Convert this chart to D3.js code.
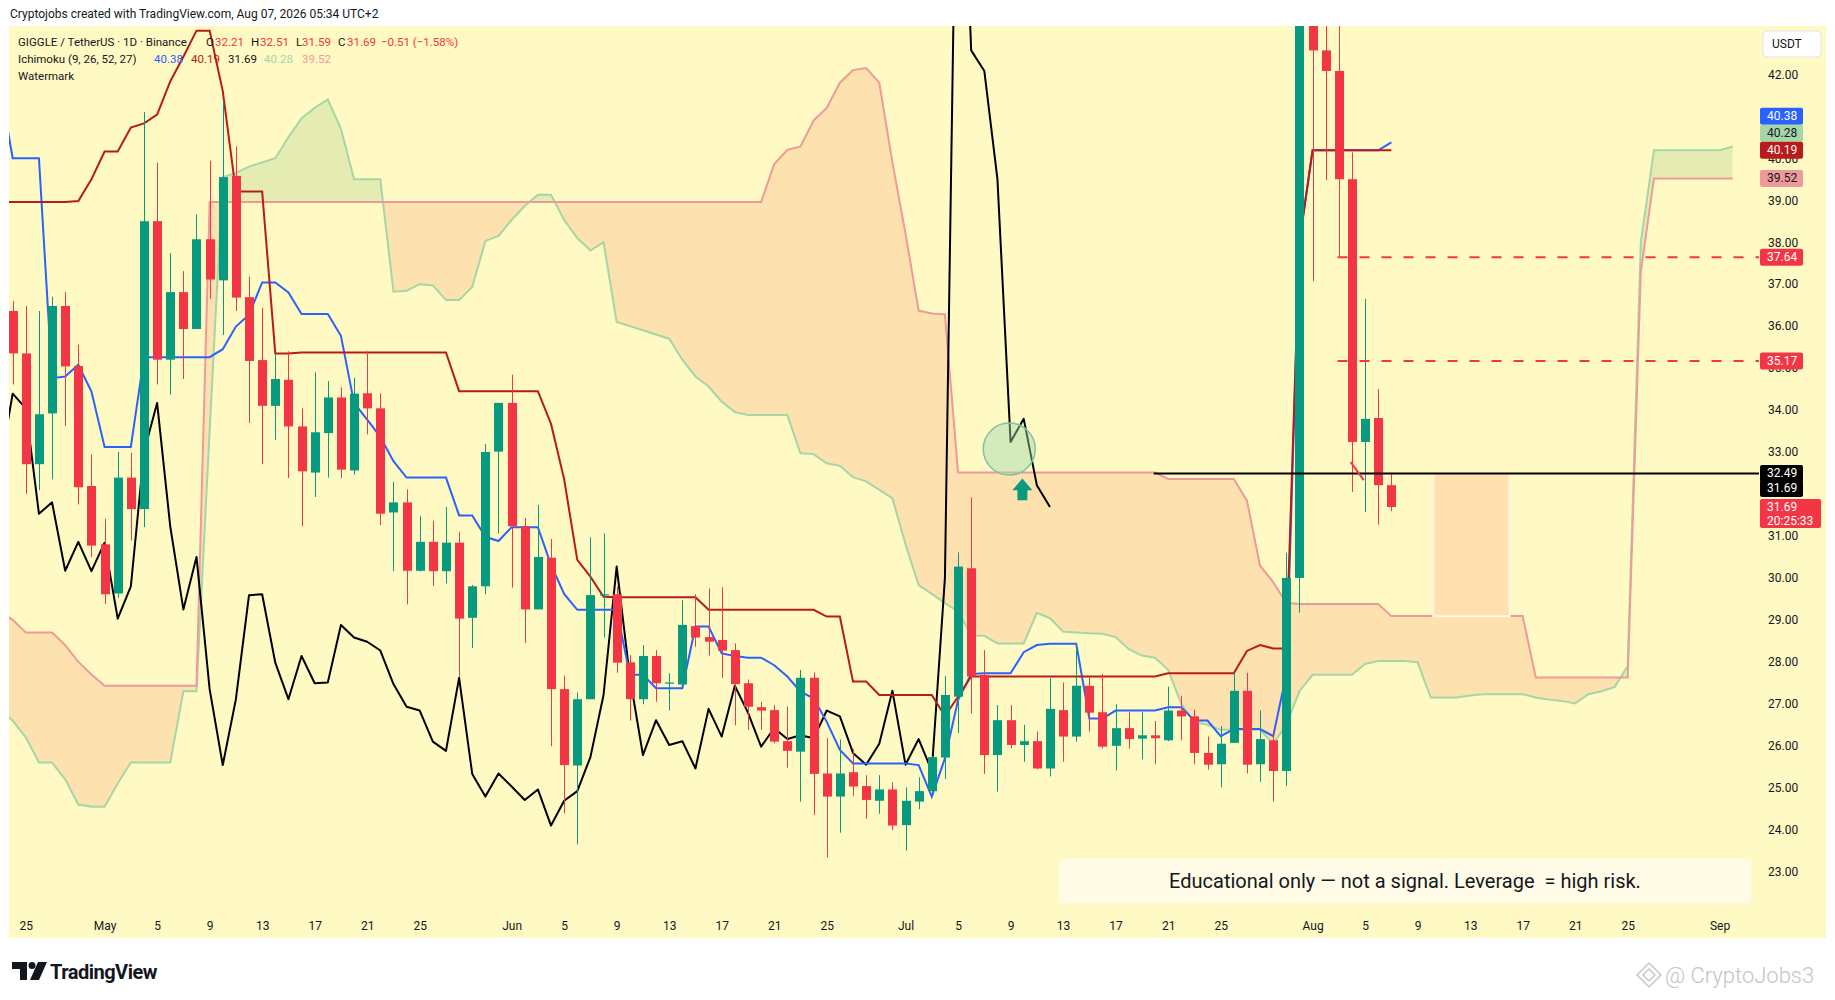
<!DOCTYPE html>
<html><head><meta charset="utf-8">
<script src="https://cdn.jsdelivr.net/npm/d3@7"></script>
<style>
html,body{margin:0;padding:0;background:#fff;}
svg{display:block;font-family:Roboto,"Noto Sans",sans-serif;}
</style>
</head><body>
<svg id="chart" width="1835" height="1000"></svg>
<script>
// ---------- DATA (day index 0 = Apr 25, 2026) ----------
const CANDLE_START = -1;
const openP = [36.36,35.35,32.71,33.92,36.48,35.05,32.19,30.80,29.63,32.39,
31.64,38.50,35.20,36.81,35.93,38.07,37.09,39.58,36.69,35.19,
34.10,34.72,33.61,32.51,33.45,34.30,32.56,34.40,34.04,31.56,
31.80,30.17,30.86,30.16,30.84,29.05,29.80,33.01,34.17,31.23,
29.25,30.48,27.35,25.53,27.11,29.58,29.61,27.99,27.11,28.14,
27.48,27.46,28.85,28.59,28.52,28.28,27.49,26.92,26.85,26.11,
25.86,27.62,25.34,24.79,25.37,25.04,24.69,24.96,24.11,24.67,
24.92,25.72,27.17,30.23,27.69,25.78,26.61,26.02,26.11,25.46,
26.85,26.22,27.43,26.80,26.00,26.42,26.17,26.25,26.13,26.84,
26.70,25.83,25.56,26.07,27.31,25.56,26.13,25.40,30.00,50.50,
42.57,42.08,39.50,33.24,33.81,32.21];
const highP = [36.60,36.48,36.36,36.70,36.81,35.56,32.94,31.41,33.00,32.98,
41.10,39.89,37.74,37.31,38.66,39.94,41.35,40.28,37.18,36.43,
35.35,35.40,34.04,34.90,34.69,34.54,34.77,35.40,34.40,32.29,
32.11,31.48,31.36,31.69,31.09,29.83,33.19,34.17,34.84,31.43,
31.74,30.93,27.67,27.27,30.97,31.06,29.79,28.16,28.40,28.28,
27.73,29.47,29.61,29.75,29.78,28.44,27.58,27.05,26.97,26.93,
27.81,27.75,26.18,26.15,25.92,25.30,25.30,25.13,25.01,25.25,
25.76,27.66,30.61,31.92,28.28,26.97,26.97,26.50,26.34,27.61,
27.51,28.44,27.65,27.71,26.99,26.80,26.80,26.59,27.41,27.19,
26.86,26.22,26.47,27.74,27.74,26.84,26.32,30.60,51.40,55.70,
44.50,44.00,40.14,36.65,34.50,32.51];
const lowP = [34.61,32.01,32.09,32.35,33.62,31.75,30.50,29.38,29.52,30.89,
31.21,34.61,34.37,34.74,35.93,36.65,35.79,36.36,33.69,32.71,
33.29,32.38,31.23,31.93,32.39,32.38,32.46,33.42,31.26,30.16,
29.37,30.15,29.81,29.87,27.65,28.33,29.61,31.06,29.77,28.45,
29.25,25.99,24.39,23.65,27.11,28.58,27.74,26.60,26.99,27.05,
26.84,27.46,28.36,28.15,27.62,26.49,26.38,26.38,26.06,25.48,
24.67,24.35,23.34,23.93,24.80,24.26,24.38,23.99,23.50,24.49,
24.90,25.21,26.30,26.77,25.33,24.91,25.94,25.62,25.44,25.27,
25.62,26.10,26.34,25.94,25.41,25.93,25.68,25.56,26.11,26.13,
25.56,25.43,25.01,26.07,25.34,25.14,24.67,25.04,29.17,37.07,
39.48,37.66,32.05,31.57,31.27,31.59];
const closeP = [35.35,32.71,33.90,36.48,35.04,32.16,30.77,29.61,32.39,31.64,
38.50,35.20,36.81,35.93,38.07,37.11,39.55,36.68,35.17,34.10,
34.74,33.61,32.54,33.47,34.30,32.58,34.39,34.04,31.53,31.80,
30.17,30.86,30.16,30.84,29.03,29.80,33.00,34.17,31.23,29.25,
30.50,27.35,25.54,27.11,29.59,29.61,27.98,27.11,28.14,27.49,
27.51,28.88,28.58,28.48,28.27,27.47,26.93,26.84,26.10,25.88,
27.62,25.33,24.79,25.34,25.03,24.71,24.96,24.10,24.69,24.92,
25.73,27.21,30.27,27.65,25.78,26.61,26.02,26.11,25.46,26.88,
26.22,27.43,26.79,25.98,26.42,26.16,26.25,26.18,26.84,26.70,
25.83,25.55,26.05,27.31,25.55,26.16,25.40,30.00,50.50,42.57,
42.08,39.50,33.24,33.79,32.21,31.69];

// Ichimoku lines, day index start
const LINE_START = -2;
const tenkan = [41.8,40.0,40.0,40.0,34.76,34.8,35.08,34.44,33.12,33.12,
33.12,35.26,35.26,35.26,35.26,35.26,35.26,35.45,35.99,36.27,
37.04,37.04,36.8,36.29,36.29,36.29,35.77,34.17,33.77,33.36,
32.78,32.39,32.39,32.39,32.39,31.49,31.49,30.98,30.88,31.21,
31.21,31.21,30.31,29.62,29.24,29.24,29.24,29.24,27.69,27.69,
27.37,27.37,27.37,28.84,28.84,28.2,28.14,28.1,28.1,27.92,
27.65,27.29,27.13,26.57,25.9,25.58,25.58,25.58,25.58,25.58,
25.54,24.79,25.7,27.09,27.71,27.73,27.73,27.73,28.23,28.4,
28.43,28.43,28.43,26.65,26.65,26.84,26.84,26.84,26.84,26.92,
26.92,26.6,26.6,26.23,26.4,26.4,26.4,26.23,27.7,38.0,
40.19,40.19,40.19,40.19,40.19,40.19,40.38];
const kijun = [38.96,38.96,38.96,38.96,38.96,38.96,38.98,39.5,40.16,40.16,
40.73,40.83,41.04,41.83,42.42,43.04,43.04,41.6,39.21,39.21,
39.21,35.35,35.35,35.37,35.37,35.37,35.37,35.37,35.37,35.37,
35.37,35.37,35.37,35.37,35.37,34.45,34.45,34.45,34.45,34.45,
34.45,34.45,33.67,32.35,30.43,30.03,29.55,29.54,29.54,29.54,
29.54,29.54,29.54,29.54,29.24,29.24,29.24,29.24,29.24,29.24,
29.24,29.24,29.24,29.08,29.08,27.53,27.53,27.21,27.21,27.21,
27.21,27.21,26.71,27.17,27.65,27.65,27.65,27.65,27.65,27.65,
27.65,27.65,27.65,27.65,27.65,27.65,27.65,27.65,27.65,27.73,
27.73,27.73,27.73,27.73,27.73,28.26,28.4,28.32,28.32,38.0,
40.19,40.19,40.19,40.19,40.19,40.19,40.19];
const chikou = [32.58,34.39,34.04,31.53,31.80,30.17,30.86,30.16,30.84,29.03,
29.80,33.00,34.17,31.23,29.25,30.50,27.35,25.54,27.11,29.59,
29.61,27.98,27.11,28.14,27.49,27.51,28.88,28.58,28.48,28.27,
27.47,26.93,26.84,26.10,25.88,27.62,25.33,24.79,25.34,25.03,
24.71,24.96,24.10,24.69,24.92,25.73,27.21,30.27,27.65,25.78,
26.61,26.02,26.11,25.46,26.88,26.22,27.43,26.79,25.98,26.42,
26.16,26.25,26.18,26.84,26.70,25.83,25.55,26.05,27.31,25.55,
26.16,25.40,30.00,50.50,42.57,42.08,39.50,33.24,33.79,32.21,
31.69];
const senkouA = [26.9,26.6,26.2,25.6,25.6,25.2,24.6,24.55,24.55,25.1,
25.6,25.6,25.6,25.6,27.3,27.3,33.5,39.55,39.65,39.8,
39.9,40.0,40.5,40.95,41.2,41.4,40.7,39.5,39.5,39.5,
36.82,36.84,37.0,36.97,36.62,36.62,36.93,38.03,38.15,38.53,
38.86,39.13,39.13,38.53,38.1,37.8,38.0,36.1,36.0,35.9,
35.8,35.7,35.2,34.8,34.56,34.2,33.95,33.88,33.88,33.88,
33.88,32.97,32.95,32.73,32.67,32.4,32.3,32.1,31.9,30.8,
29.83,29.62,29.4,29.2,28.63,28.62,28.44,28.44,28.44,29.17,
29.04,28.72,28.7,28.68,28.67,28.59,28.3,28.15,28.1,27.81,
27.0,26.56,26.5,26.38,26.38,26.38,26.38,26.04,26.5,27.3,
27.69,27.69,27.69,27.69,27.95,28.02,28.02,28.02,27.99,27.15,
27.15,27.15,27.2,27.23,27.23,27.23,27.23,27.15,27.1,27.07,
27.01,27.23,27.3,27.4,27.9,38.0,40.19,40.19,40.19,40.19,
40.19,40.19,40.28];
const senkouB = [29.2,29.0,28.7,28.7,28.7,28.4,28.0,27.7,
27.43,27.43,27.43,27.43,27.43,27.43,27.43,27.43,
38.96,38.96,38.96,38.96,38.96,38.96,38.96,38.96,38.96,38.96,
38.96,38.96,38.96,38.96,38.96,38.96,38.96,38.96,38.96,38.96,
38.96,38.96,38.96,38.96,38.96,38.96,38.96,38.96,38.96,38.96,
38.96,38.96,38.96,38.96,38.96,38.96,38.96,38.96,38.96,38.96,
38.96,38.96,38.96,
39.86,40.2,40.28,40.9,41.2,41.8,42.1,42.15,41.8,39.9,38.2,36.37,36.3,36.28,
32.51,32.51,32.51,32.51,32.51,32.51,32.51,32.51,32.51,32.51,32.51,32.51,32.51,32.51,32.51,32.51,
32.36,32.36,32.36,32.36,32.36,32.36,
31.84,30.29,29.9,29.41,
29.38,29.38,29.38,29.38,29.38,29.38,29.38,
29.09,29.09,29.09,29.09,29.09,29.09,29.09,29.09,29.09,29.09,29.09,
27.63,27.63,27.63,27.63,27.63,27.63,27.63,27.63,
37.3,
39.52,39.52,39.52,39.52,39.52,39.52,39.52];

// price-scale ticks (41 and 32 are fully covered by labels in the reference)
const yTicks = [23,24,25,26,27,28,29,30,31,33,34,35,36,37,38,39,40,42];
const xTickDays = [0,6,10,14,18,22,26,30,37,41,45,49,53,57,61,67,71,75,79,83,87,91,98,102,106,110,114,118,122,129];
const xTickLabels = ["25","May","5","9","13","17","21","25","Jun","5","9","13","17","21","25","Jul","5","9","13","17","21","25","Aug","5","9","13","17","21","25","Sep"];

// drawings
const levelBlack = 32.49, levelBlackFrom = 85.9;
const dashedLevels = [37.64, 35.17], dashedFrom = 99.9;
const boxZone = {d0:107.2, d1:113.0, top:32.49, bottom:29.09};
const circleMark = {d:74.9, v:33.07};
const arrowMark = {d:75.9, top:32.37, neck:32.09, bottom:31.85};
const redStroke = [[100.9,32.76],[101.9,32.33]];

// price-scale labels (anchor value + stacking offset in px)
const axisLabels = [
  {v:40.19, text:"40.38", bg:"#2962ff", fg:"#ffffff", shift:-34},
  {v:40.19, text:"40.28", bg:"#a5d6a7", fg:"#131722", shift:-17},
  {v:40.19, text:"40.19", bg:"#b71c1c", fg:"#ffffff", shift:0},
  {v:39.52, text:"39.52", bg:"#ef9a9a", fg:"#131722", shift:0},
  {v:37.64, text:"37.64", bg:"#f23645", fg:"#ffffff", shift:0},
  {v:35.17, text:"35.17", bg:"#f23645", fg:"#ffffff", shift:0},
  {v:32.49, text:"32.49", bg:"#000000", fg:"#ffffff", shift:0},
  {v:32.49, text:"31.69", bg:"#000000", fg:"#ffffff", shift:15}
];

// ---------- DRAW ----------
const svg = d3.select('#chart');
const paneL = 9, paneR = 1759, paneT = 26, paneB = 914;
const x = d3.scaleLinear().domain([-1.28, 132.0]).range([paneL, paneR]);
const y = d3.scaleLinear().domain([42, 23]).range([74.3, 871.7]);
const GREEN = '#089981', RED = '#f23645';

svg.append('rect').attr('x', 9).attr('y', 26).attr('width', 1817).attr('height', 912).attr('fill', '#fff9c4');

const defs = svg.append('defs');
defs.append('clipPath').attr('id','paneClip').append('rect')
  .attr('x',paneL).attr('y',paneT).attr('width',paneR-paneL).attr('height',paneB-paneT);

const cloud = senkouA.map((a,i)=>({d:i+LINE_START, a:a, b:senkouB[i]}));
defs.append('clipPath').attr('id','aboveB').append('path')
  .attr('d', d3.area().x(p=>x(p.d)).y0(-10).y1(p=>y(p.b))(cloud));
defs.append('clipPath').attr('id','belowB').append('path')
  .attr('d', d3.area().x(p=>x(p.d)).y0(p=>y(p.b)).y1(3000)(cloud));

const pane = svg.append('g').attr('clip-path','url(#paneClip)');
const cloudArea = d3.area().x(p=>x(p.d)).y0(p=>y(p.a)).y1(p=>y(p.b));
pane.append('g').attr('clip-path','url(#aboveB)').append('path')
  .attr('d', cloudArea(cloud)).attr('fill','rgba(67,160,71,0.14)');
pane.append('g').attr('clip-path','url(#belowB)').append('path')
  .attr('d', cloudArea(cloud)).attr('fill','rgba(244,140,100,0.22)');

const line = d3.line().x(p=>x(p[0])).y(p=>y(p[1]));
const toPts = (arr, start) => arr.map((v,i)=>[i+start, v]);
pane.append('path').attr('d', line(toPts(senkouA, LINE_START))).attr('fill','none').attr('stroke','#a5d6a7').attr('stroke-width',2);
pane.append('path').attr('d', line(toPts(senkouB, LINE_START))).attr('fill','none').attr('stroke','#ef9a9a').attr('stroke-width',2);
pane.append('path').attr('d', line(toPts(chikou, LINE_START))).attr('fill','none').attr('stroke','#000').attr('stroke-width',2).attr('stroke-linejoin','round');
pane.append('path').attr('d', line(toPts(tenkan, LINE_START))).attr('fill','none').attr('stroke','#2962ff').attr('stroke-width',2);
pane.append('path').attr('d', line(toPts(kijun, LINE_START))).attr('fill','none').attr('stroke','#b71c1c').attr('stroke-width',2);

// candles
const candles = openP.map((o,i)=>({d:i+CANDLE_START, o:o, h:highP[i], l:lowP[i], c:closeP[i]}));
const cg = pane.append('g');
cg.selectAll('line.wick').data(candles).enter().append('line')
  .attr('x1', c=>Math.round(x(c.d))+0.5).attr('x2', c=>Math.round(x(c.d))+0.5)
  .attr('y1', c=>y(c.h)).attr('y2', c=>y(c.l))
  .attr('stroke', c=>c.c>=c.o?GREEN:RED).attr('stroke-width',1);
cg.selectAll('rect.body').data(candles).enter().append('rect')
  .attr('x', c=>Math.round(x(c.d))-4).attr('width', 9)
  .attr('y', c=>y(Math.max(c.o,c.c)))
  .attr('height', c=>Math.max(1, Math.abs(y(c.o)-y(c.c))))
  .attr('fill', c=>c.c>=c.o?GREEN:RED);

// drawings
pane.append('rect').attr('x', x(boxZone.d0)).attr('y', y(boxZone.top))
  .attr('width', x(boxZone.d1)-x(boxZone.d0)).attr('height', y(boxZone.bottom)-y(boxZone.top))
  .attr('fill','rgba(255,205,160,0.55)').attr('stroke','#fff6e8').attr('stroke-width',2);
pane.append('line').attr('x1', x(levelBlackFrom)).attr('x2', paneR).attr('y1', y(levelBlack)).attr('y2', y(levelBlack))
  .attr('stroke','#000').attr('stroke-width',2);
dashedLevels.forEach(v=>{
  pane.append('line').attr('x1', x(dashedFrom)).attr('x2', paneR).attr('y1', y(v)).attr('y2', y(v))
    .attr('stroke',RED).attr('stroke-width',2).attr('stroke-dasharray','10,12');
});
pane.append('path').attr('d', line(redStroke)).attr('stroke',RED).attr('stroke-width',2).attr('fill','none');
pane.append('circle').attr('cx', x(circleMark.d)).attr('cy', y(circleMark.v)).attr('r', 26)
  .attr('fill','rgba(160,215,175,0.45)').attr('stroke','#7cc4a4').attr('stroke-width',1.5);
{
  const ax = x(arrowMark.d), t = y(arrowMark.top), n = y(arrowMark.neck), b = y(arrowMark.bottom);
  pane.append('path').attr('d', `M${ax},${t} L${ax+10},${n} L${ax+5},${n} L${ax+5},${b} L${ax-5},${b} L${ax-5},${n} L${ax-10},${n} Z`)
    .attr('fill','#0b9a7e');
}

// right price axis
const yAxis = d3.axisRight(y).tickValues(yTicks).tickFormat(v=>v.toFixed(2)).tickSize(0).tickPadding(0);
const yg = svg.append('g').attr('transform','translate(1768,0)').call(yAxis);
yg.select('.domain').remove();
yg.selectAll('text').attr('font-size',12).attr('font-family','Roboto,sans-serif').attr('fill','#131722');

// x time axis
const xAxis = d3.axisBottom(x).tickValues(xTickDays).tickFormat((d,i)=>xTickLabels[i]).tickSize(0).tickPadding(0);
const xg = svg.append('g').attr('transform','translate(0,921)').call(xAxis);
xg.select('.domain').remove();
xg.selectAll('text').attr('font-size',12).attr('font-family','Roboto,sans-serif').attr('fill','#131722');

// axis labels boxes
const lg = svg.append('g').attr('font-family','Roboto,sans-serif').attr('font-size',12);
axisLabels.forEach(L=>{
  const cy = y(L.v) + L.shift;
  lg.append('rect').attr('x',1760).attr('y',cy-8.5).attr('width',43).attr('height',17).attr('rx',2).attr('fill',L.bg);
  lg.append('text').attr('x',1767).attr('y',cy+4).attr('fill',L.fg).text(L.text);
});
{
  const cy = y(31.69);
  lg.append('rect').attr('x',1760).attr('y',cy-8).attr('width',61).attr('height',29).attr('rx',2).attr('fill',RED);
  lg.append('text').attr('x',1767).attr('y',cy+4).attr('fill','#fff').text('31.69');
  lg.append('text').attr('x',1767).attr('y',cy+18).attr('fill','#fff').text('20:25:33');
}
// USDT box
svg.append('rect').attr('x',1763).attr('y',31).attr('width',58).attr('height',26).attr('rx',4)
  .attr('fill','#fff').attr('stroke','#e0e3eb');
svg.append('text').attr('x',1772).attr('y',48).attr('font-size',12).attr('fill','#131722').text('USDT');

// header
svg.append('text').attr('x',10).attr('y',18).attr('font-size',12).attr('fill','#131722')
  .text('Cryptojobs created with TradingView.com, Aug 07, 2026 05:34 UTC+2');
const leg = svg.append('g').attr('font-size',11.5).attr('fill','#131722');
const parts1 = [
  [18,'GIGGLE / TetherUS · 1D · Binance','#131722'],[206,'O','#131722'],[215,'32.21',RED],
  [251,'H','#131722'],[260,'32.51',RED],[296,'L','#131722'],[302,'31.59',RED],
  [338,'C','#131722'],[347,'31.69',RED],[381,'−0.51 (−1.58%)',RED]];
parts1.forEach(p=>leg.append('text').attr('x',p[0]).attr('y',46).attr('fill',p[2]).text(p[1]));
const parts2 = [[18,'Ichimoku (9, 26, 52, 27)','#131722'],[154,'40.38','#2962ff'],[191,'40.19','#b71c1c'],
  [228,'31.69','#131722'],[264,'40.28','#a5d6a7'],[302,'39.52','#ef9a9a']];
parts2.forEach(p=>leg.append('text').attr('x',p[0]).attr('y',63).attr('fill',p[2]).text(p[1]));
leg.append('text').attr('x',18).attr('y',80).text('Watermark');

// disclaimer box
svg.append('rect').attr('x',1059).attr('y',859).attr('width',692).attr('height',44).attr('fill','#fffbe6');
svg.append('text').attr('x',1405).attr('y',888).attr('text-anchor','middle').attr('font-size',20)
  .attr('fill','#131722').style('white-space','pre')
  .text('Educational only — not a signal. Leverage  = high risk.');

// footer logo
svg.append('path').attr('d','M12 962 h15 v18 h-7 v-11 h-8 z').attr('fill','#131722');
svg.append('circle').attr('cx',32).attr('cy',965.5).attr('r',3.5).attr('fill','#131722');
svg.append('path').attr('d','M38 962 h9 l-8 18 h-9 z').attr('fill','#131722');
svg.append('text').attr('x',50).attr('y',979).attr('font-size',20).attr('font-weight','bold')
  .attr('fill','#131722').attr('letter-spacing','-0.5').text('TradingView');

// watermark
svg.append('path').attr('d','M1649 963 l12 12 l-12 12 l-12 -12 z M1649 969 l6 6 l-6 6 l-6 -6 z')
  .attr('fill','none').attr('stroke','#c8c8c8').attr('stroke-width',1.5);
svg.append('text').attr('x',1665).attr('y',983).attr('font-size',22).attr('font-weight',300)
  .attr('fill','#c4c4c4').text('@ CryptoJobs3');
</script>
</body></html>
